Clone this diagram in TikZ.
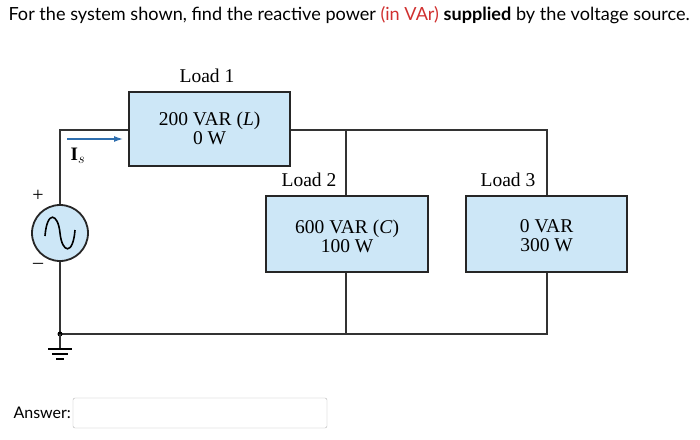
\documentclass[tikz,border=0pt]{standalone}
\usepackage{fontspec}
\usetikzlibrary{arrows.meta}
\setmainfont{Liberation Serif}
\newfontfamily\uifont{Lato}
\definecolor{boxfill}{HTML}{CDE7F7}
\definecolor{arr}{HTML}{2F6FAF}
\definecolor{redt}{HTML}{D0302F}
\begin{document}
\begin{tikzpicture}[x=1pt,y=-1pt,
  wire/.style={draw=black!80,line width=1.4pt},
  load/.style={draw=black!85,line width=2.2pt,fill=boxfill,inner sep=0,anchor=north west},
  lbl/.style={font=\fontsize{19.5}{19}\selectfont,align=center}]
\useasboundingbox (0,0) rectangle (700,439);
\node[anchor=west,font=\uifont\fontsize{18.1}{20}\selectfont] (q) at (5,15) {For the system shown, find the reactive power {\color{redt}(in VAr)} \textbf{supplied} by the voltage source.};
\node[load,minimum width=161,minimum height=74] (L1) at (128,91) {};
\node[load,minimum width=162,minimum height=76] (L2) at (265,195) {};
\node[load,minimum width=161,minimum height=76] (L3) at (465,195) {};
\node[lbl] at ([yshift=1]L1.center) {200 VAR (\textit{L})\\0 W};
\node[lbl] at ([yshift=-2]L2.center) {600 VAR (\textit{C})\\100 W};
\node[lbl] at ([yshift=-2]L3.center) {0 VAR\\300 W};
\node[lbl] (t1) at (207,76) {Load 1};
\node[lbl] (t2) at (309,180) {Load 2};
\node[lbl] (t3) at (508,180) {Load 3};
\node[circle,draw=black!85,line width=1.8pt,fill=boxfill,minimum size=56,inner sep=0] (S) at (60,233) {};
\draw[line width=1.6pt] (45,236) .. controls (47,210) and (58,213) .. (60,233) .. controls (62,253) and (73,256) .. (75,230);
\coordinate (tl) at (60,130); \coordinate (bl) at (60,334);
\coordinate (tr) at (547,130); \coordinate (br) at (547,334);
\coordinate (m) at (346,130); \coordinate (mb) at (346,334);
\draw[wire] (S.north) -- (tl) -- (L1.west |- tl);
\draw[wire] (L1.east |- tl) -- (tr) -- (tr |- L3.north);
\draw[wire] (m) -- (m |- L2.north);
\draw[wire] (S.south) -- (bl) -- (br) -- (br |- L3.south);
\draw[wire] (mb) -- (mb |- L2.south);
\fill (bl) circle (2.5);
\draw[wire] (bl) -- (60,349);
\draw[line width=1.8pt] (48,349) -- (72,349);
\draw[line width=1.8pt] (52,354) -- (68,354);
\draw[line width=1.8pt] (56,359) -- (64,359);
\draw[arr,line width=1.3pt,-{Latex[length=9pt,width=6pt]}] (67,139) -- (123,139);
\node[font=\fontsize{19}{20}\selectfont] (Is) at (78,156) {$\mathbf{I}_s$};
\node[font=\fontsize{20}{20}\selectfont] (p) at (38,196) {+};
\node[font=\fontsize{20}{20}\selectfont] (n) at (38,266) {--};
\node[anchor=west,font=\uifont\fontsize{16}{18}\selectfont] (a) at (10,413) {Answer:};
\draw[black!30,rounded corners=2pt] (73,398) rectangle (327,428);
\end{tikzpicture}
\end{document}
